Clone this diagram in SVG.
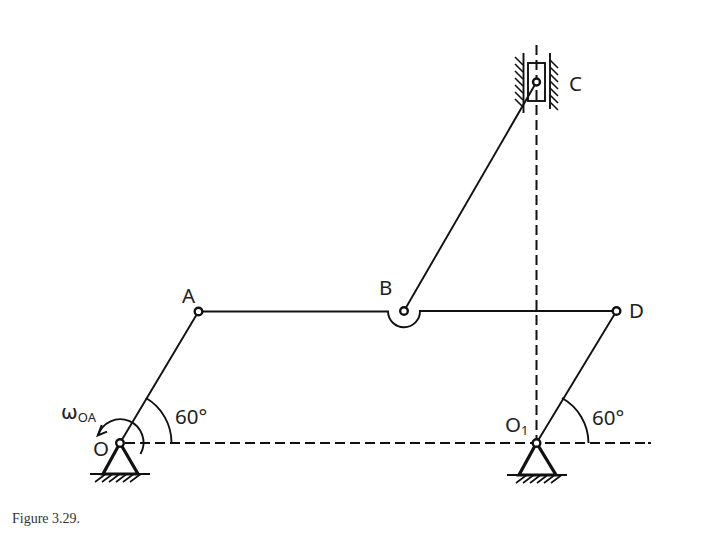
<svg xmlns="http://www.w3.org/2000/svg" width="713" height="536" viewBox="0 0 713 536">
<style>
.l{fill:none;stroke:#111;stroke-width:1.9}
.d{fill:none;stroke:#111;stroke-width:2;stroke-dasharray:10 5}
.h{fill:none;stroke:#111;stroke-width:1.6}
.b{fill:none;stroke:#111;stroke-width:3.2}
.p{fill:#fff;stroke:#111;stroke-width:2.4}
.t{font-family:"Noto Sans","Liberation Sans",sans-serif;font-size:20.500px;fill:#222}
</style>
<defs>
<g id="hatch"><path class="h" d="M10 0L0 7.500M17 0L7 7.500M24 0L14 7.500M31 0L21 7.500M38 0L28 7.500M45 0L35 7.500"/></g>
<g id="vh"><path class="h" d="M8 8L0 0M8 15L0 7M8 22L0 14M8 29L0 21M8 36L0 28M8 43L0 35M8 50L0 42"/></g>
</defs>
<rect width="713" height="536" fill="#fff"/>
<g id="connectors">
<path class="d" d="M125 443H645M648 443H651"/>
<path class="d" d="M536.500 45V443"/>
<path class="l" d="M120 443L198.500 311.500"/>
<path class="l" d="M198.500 311.500H388A16 16 0 0 0 420 311H616.500"/>
<path class="l" d="M404 311L536.500 82"/>
<path class="l" d="M616.500 311L536.500 443"/>
<path class="l" d="M171.500 443A52 52 0 0 0 146 398"/>
<path class="l" d="M588.500 443A52 52 0 0 0 562 398"/>
<path class="l" d="M140.500 454A23.300 23.300 0 1 0 98 435.500"/>
<path class="l" d="M101.700 425L97.700 435.500L107 431.700"/>
</g>
<g id="slider-C">
<path class="l" d="M523.500 53V113M550 53V109"/>
<rect class="l" x="528" y="63" width="17" height="38"/>
<use href="#vh" x="515" y="57"/>
<use href="#vh" x="550" y="60"/>
<circle class="p" cx="536.500" cy="82" r="3.500"/>
<text class="t" x="569" y="91">C</text>
</g>
<g id="node-O">
<path class="b" d="M120 443L103 474H138Z"/>
<path class="l" d="M90 474H150"/>
<use href="#hatch" x="95" y="474.500"/>
<circle class="p" cx="120" cy="443" r="3.800"/>
<text class="t" x="93" y="456">O</text>
<text x="61" y="419" font-family="'DejaVu Sans',sans-serif" font-size="20" fill="#222">ω<tspan font-family="'Noto Sans',sans-serif" font-size="13" dy="3">OA</tspan></text>
<text class="t" x="175" y="424">60°</text>
</g>
<g id="node-O1">
<path class="b" d="M536.500 443L519 475H556Z"/>
<path class="l" d="M507 475H567"/>
<use href="#hatch" x="516" y="475.500"/>
<circle class="p" cx="536.500" cy="443" r="3.800"/>
<text class="t" x="505" y="432">O<tspan font-size="13" dy="3">1</tspan></text>
<text class="t" x="592" y="425">60°</text>
</g>
<g id="node-A"><circle class="p" cx="198.500" cy="311.500" r="3.800"/><text class="t" x="182" y="303">A</text></g>
<g id="node-B"><circle class="p" cx="404" cy="311" r="3.800"/><text class="t" x="379" y="295">B</text></g>
<g id="node-D"><circle class="p" cx="616.500" cy="311" r="3.800"/><text class="t" x="629" y="318">D</text></g>
<text x="12" y="523" font-family="'Liberation Serif',serif" font-size="14" fill="#333">Figure 3.29.</text>
</svg>
